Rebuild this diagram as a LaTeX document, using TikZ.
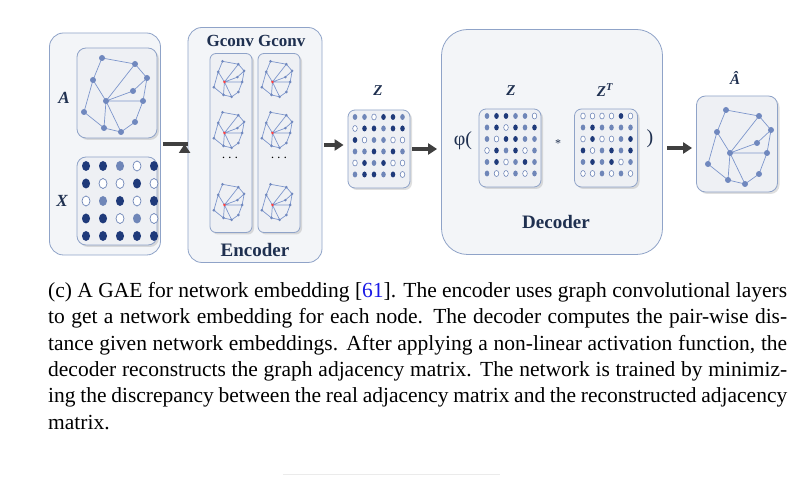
\documentclass[tikz,border=0pt]{standalone}
\usepackage{fontspec}
\setmainfont{Liberation Serif}
\usetikzlibrary{arrows.meta,shadows}
\definecolor{navy}{HTML}{1F3050}
\definecolor{edgeb}{HTML}{8FA3C8}
\definecolor{boxf}{HTML}{EEF0F4}
\definecolor{outf}{HTML}{F3F5F8}
\definecolor{ln}{HTML}{7D96CC}
\definecolor{nd}{HTML}{7088BE}
\definecolor{dk}{HTML}{1F3A7A}
\definecolor{md}{HTML}{6F86B8}
\definecolor{citeb}{HTML}{1A1AE6}
\def\ctr{nd}
\tikzset{
 outer/.style={draw=edgeb,fill=outf,rounded corners=14pt,line width=0.8pt},
 inner/.style={draw=edgeb,fill=boxf,rounded corners=9pt,line width=0.8pt,drop shadow={shadow xshift=2pt,shadow yshift=-2pt,opacity=0.25}},
 lab/.style={text=navy,font=\bfseries\itshape\fontsize{17}{17}\selectfont},
 tit/.style={text=navy,font=\bfseries\fontsize{19}{19}\selectfont},
 arr/.style={-{Triangle[length=9pt,width=11pt]},line width=3.2pt,draw=black!75},
 gr/.pic={
  \foreach \n/\x/\y in {1/24/9,2/57/15,3/69/29,4/15/31,5/55/42,6/28/52,7/65/52,8/6/63,9/57/73,10/26/79,11/43/83}
    \coordinate (-\n) at (\x,\y);
  \draw[ln,line width=0.7pt] (-1)--(-2)--(-3)--(-7)--(-9)--(-11)--(-10)--(-8)--(-4)--(-1)
    (-4)--(-6)--(-2) (-6)--(-5)--(-3) (-6)--(-7) (-6)--(-10) (-6)--(-11);
  \foreach \n in {1,2,3,4,5,7,8,9,10,11} \fill[nd] (-\n) circle (3);
  \fill[\ctr] (-6) circle (3);
 },
 mat/.pic={
  \foreach \i in {0,...,5} \foreach \j in {0,...,5}{
   \pgfmathrandominteger{\r}{1}{3}
   \ifcase\r\or
     \fill[dk] (\i*9.5,\j*11.5) ellipse (2.3 and 3);
   \or
     \fill[md] (\i*9.5,\j*11.5) ellipse (2.3 and 3);
   \or
     \draw[md,fill=white,line width=0.6pt] (\i*9.5,\j*11.5) ellipse (2.3 and 3);
   \fi}
 },
 bigmat/.pic={
  \foreach \i in {0,...,4} \foreach \j in {0,...,4}{
   \pgfmathrandominteger{\r}{1}{3}
   \ifcase\r\or
     \fill[dk] (\i*17,\j*17.5) ellipse (4 and 5);
   \or
     \fill[md] (\i*17,\j*17.5) ellipse (4 and 5);
   \or
     \draw[md,fill=white,line width=0.7pt] (\i*17,\j*17.5) ellipse (4 and 5);
   \fi}
 }
}
\begin{document}
\begin{tikzpicture}[x=1pt,y=-1pt]
\pgfmathsetseed{7}
\useasboundingbox[fill=white] (0,0) rectangle (801,478);
% input
\node[outer,minimum width=111pt,minimum height=222pt] (in) at (105,144) {};
\node[inner,minimum width=80pt,minimum height=90pt] (Abox) at (117,93) {};
\pic at (78,49) {gr};
\node[inner,minimum width=80pt,minimum height=88pt] (Xbox) at (117,201) {};
\pic at (86,166) {bigmat};
\node[lab] (Al) at (64,98) {A};
\node[lab] (Xl) at (62,201) {X};
% encoder
\node[outer,minimum width=134pt,minimum height=235pt] (enc) at (255,145) {};
\node[tit,font=\bfseries\fontsize{17}{17}\selectfont] (gc) at (256,41) {Gconv Gconv};
\node[inner,rounded corners=6pt,minimum width=42pt,minimum height=179pt] (c1) at (231,143) {};
\node[inner,rounded corners=6pt,minimum width=42pt,minimum height=179pt] (c2) at (279,143) {};
\begin{scope}\def\ctr{red!75}
\foreach \xx in {211,259}{
 \pic[scale=0.48] at (\xx,57) {gr};
 \pic[scale=0.48] at (\xx,108) {gr};
 \pic[scale=0.48] at (\xx,180) {gr};
}
\end{scope}
\node[font=\bfseries\fontsize{14}{14}\selectfont] (d1) at (230,158) {$\cdots$};
\node[font=\bfseries\fontsize{14}{14}\selectfont] (d2) at (279,158) {$\cdots$};
\node[tit] (encl) at (255,250) {Encoder};
% Z
\node[lab,font=\bfseries\itshape\fontsize{15}{15}\selectfont] (Zl) at (378,91) {Z};
\node[inner,rounded corners=7pt,minimum width=62pt,minimum height=78pt] (Zb) at (379,149) {};
\pic at (355,117) {mat};
% decoder
\node[outer,rounded corners=26pt,minimum width=221pt,minimum height=225pt] (dec) at (552,142) {};
\node[lab,font=\bfseries\itshape\fontsize{15}{15}\selectfont] (Z2l) at (511,91) {Z};
\node[lab,font=\bfseries\itshape\fontsize{15}{15}\selectfont] (ZTl) at (605,90) {Z\textsuperscript{T}};
\node[inner,rounded corners=7pt,minimum width=62pt,minimum height=78pt] (Z2b) at (510,148) {};
\pic at (487,116) {mat};
\node[inner,rounded corners=7pt,minimum width=63pt,minimum height=78pt] (ZTb) at (606,148) {};
\pic at (583,116) {mat};
\node[text=navy,font=\fontsize{20}{20}\selectfont] (phi) at (463,141) {φ(};
\node[text=navy,font=\fontsize{12}{12}\selectfont] (st) at (558,144) {*};
\node[text=navy,font=\fontsize{20}{20}\selectfont] (rp) at (650,139) {)};
\node[tit] (decl) at (556,222) {Decoder};
% A hat
\node[lab,font=\bfseries\itshape\fontsize{15}{15}\selectfont] (Ahl) at (735,78) {\^{A}};
\node[inner,minimum width=81pt,minimum height=96pt] (Ahb) at (737,144) {};
\pic at (702,101) {gr};
% arrows
\draw[arr] (in.east) ++(2,0) coordinate (a0) -- (a0 -| enc.west) ++(-3,0) coordinate (a1);
\draw[arr] (enc.east) ++(2,0) coordinate (b0) -- ([xshift=-4pt]b0 -| Zb.west) coordinate (b1);
\draw[arr] (Zb.east) ++(2,0) coordinate (c0) -- ([xshift=-4pt]c0 -| dec.west) coordinate (c1a);
\draw[arr] (dec.east) ++(4,6) coordinate (e0) -- ([xshift=-4pt]e0 -| Ahb.west) coordinate (e1);
% caption
\node[anchor=north west,inner sep=0pt,text width=739pt,align=justify,
  font=\fontsize{21.5}{26.4}\selectfont] (cap) at (48,282)
 {(c) A GAE for network embedding [{\color{citeb}61}]. The encoder uses graph convolutional layers to get a network embedding for each node. The decoder computes the pair-wise distance given network embeddings. After applying a non-linear activation function, the decoder reconstructs the graph adjacency matrix. The network is trained by minimizing the discrepancy between the real adjacency matrix and the reconstructed adjacency matrix.};
\coordinate (r0) at (283,474); \coordinate (r1) at (500,474);
\draw[black!8,line width=0.8pt] (r0) -- (r1);
\end{tikzpicture}
\end{document}
